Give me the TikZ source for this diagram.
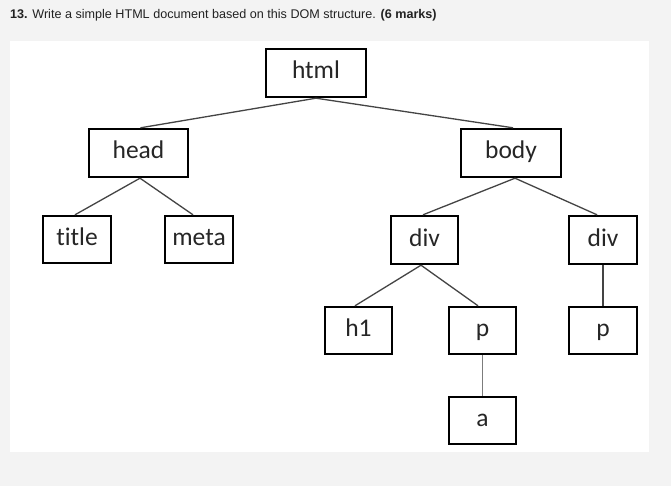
\documentclass[tikz,border=0pt]{standalone}
\usepackage{fontspec}
\setmainfont{Liberation Sans}
\newfontfamily\boxfont[Ligatures=NoCommon]{Carlito}
\definecolor{pagebg}{HTML}{F3F3F3}
\definecolor{edgecol}{HTML}{444444}
\definecolor{headtext}{HTML}{222222}
\tikzset{
  dom/.style={draw=black, line width=2.4pt, fill=white, font=\boxfont\fontsize{25.5}{25.5}\selectfont, text=black!85, inner sep=0pt, text height=16pt, text depth=4pt, anchor=center},
  edge/.style={draw=edgecol, line width=1.3pt},
}
\begin{document}
\begin{tikzpicture}[x=1pt,y=-1pt]
\fill[pagebg] (0,0) rectangle (671,486);
\useasboundingbox (0,0) rectangle (671,486);
\fill[white] (10,41) rectangle (649,452);
\node[anchor=base west, text=headtext, font=\fontsize{12.6}{12.6}\selectfont, inner sep=0pt] (q) at (10,19) {\textbf{13.} Write a simple HTML document based on this DOM structure. \textbf{(6 marks)}};

\node[dom, minimum width=100pt, minimum height=48pt] (html) at (316,73) {html};
\node[dom, minimum width=99pt, minimum height=48pt] (head) at (138.5,153) {head};
\node[dom, minimum width=100pt, minimum height=48pt] (body) at (511,153) {body};
\node[dom, minimum width=68pt, minimum height=47pt] (title) at (77,239.5) {title};
\node[dom, minimum width=68pt, minimum height=47pt] (meta) at (199,239.5) {meta};
\node[dom, minimum width=67pt, minimum height=48pt] (div1) at (424.5,240) {div};
\node[dom, minimum width=68pt, minimum height=48pt] (div2) at (603,240) {div};
\node[dom, minimum width=67pt, minimum height=47pt] (h1) at (358.5,330.5) {h1};
\node[dom, minimum width=67pt, minimum height=47pt] (p1) at (482.5,330.5) {p};
\node[dom, minimum width=68pt, minimum height=47pt] (p2) at (603,330.5) {p};
\node[dom, minimum width=67pt, minimum height=47pt] (a) at (482.5,420.5) {a};

\draw[edge] (html.south) -- ([xshift=2pt]head.north);
\draw[edge] (html.south) -- ([xshift=2pt]body.north);
\draw[edge] ([xshift=1.5pt]head.south) -- ([xshift=-2pt]title.north);
\draw[edge] ([xshift=1.5pt]head.south) -- ([xshift=-6pt]meta.north);
\draw[edge] ([xshift=4pt]body.south) -- ([xshift=-1.5pt]div1.north);
\draw[edge] ([xshift=4pt]body.south) -- ([xshift=-6pt]div2.north);
\draw[edge] ([xshift=-3.5pt]div1.south) -- ([xshift=-3.5pt]h1.north);
\draw[edge] ([xshift=-3.5pt]div1.south) -- ([xshift=-4.5pt]p1.north);
\draw[edge] (div2.south) -- (p2.north);
\draw[edge, draw=edgecol!70] (p1.south) -- (a.north);
\end{tikzpicture}
\end{document}
